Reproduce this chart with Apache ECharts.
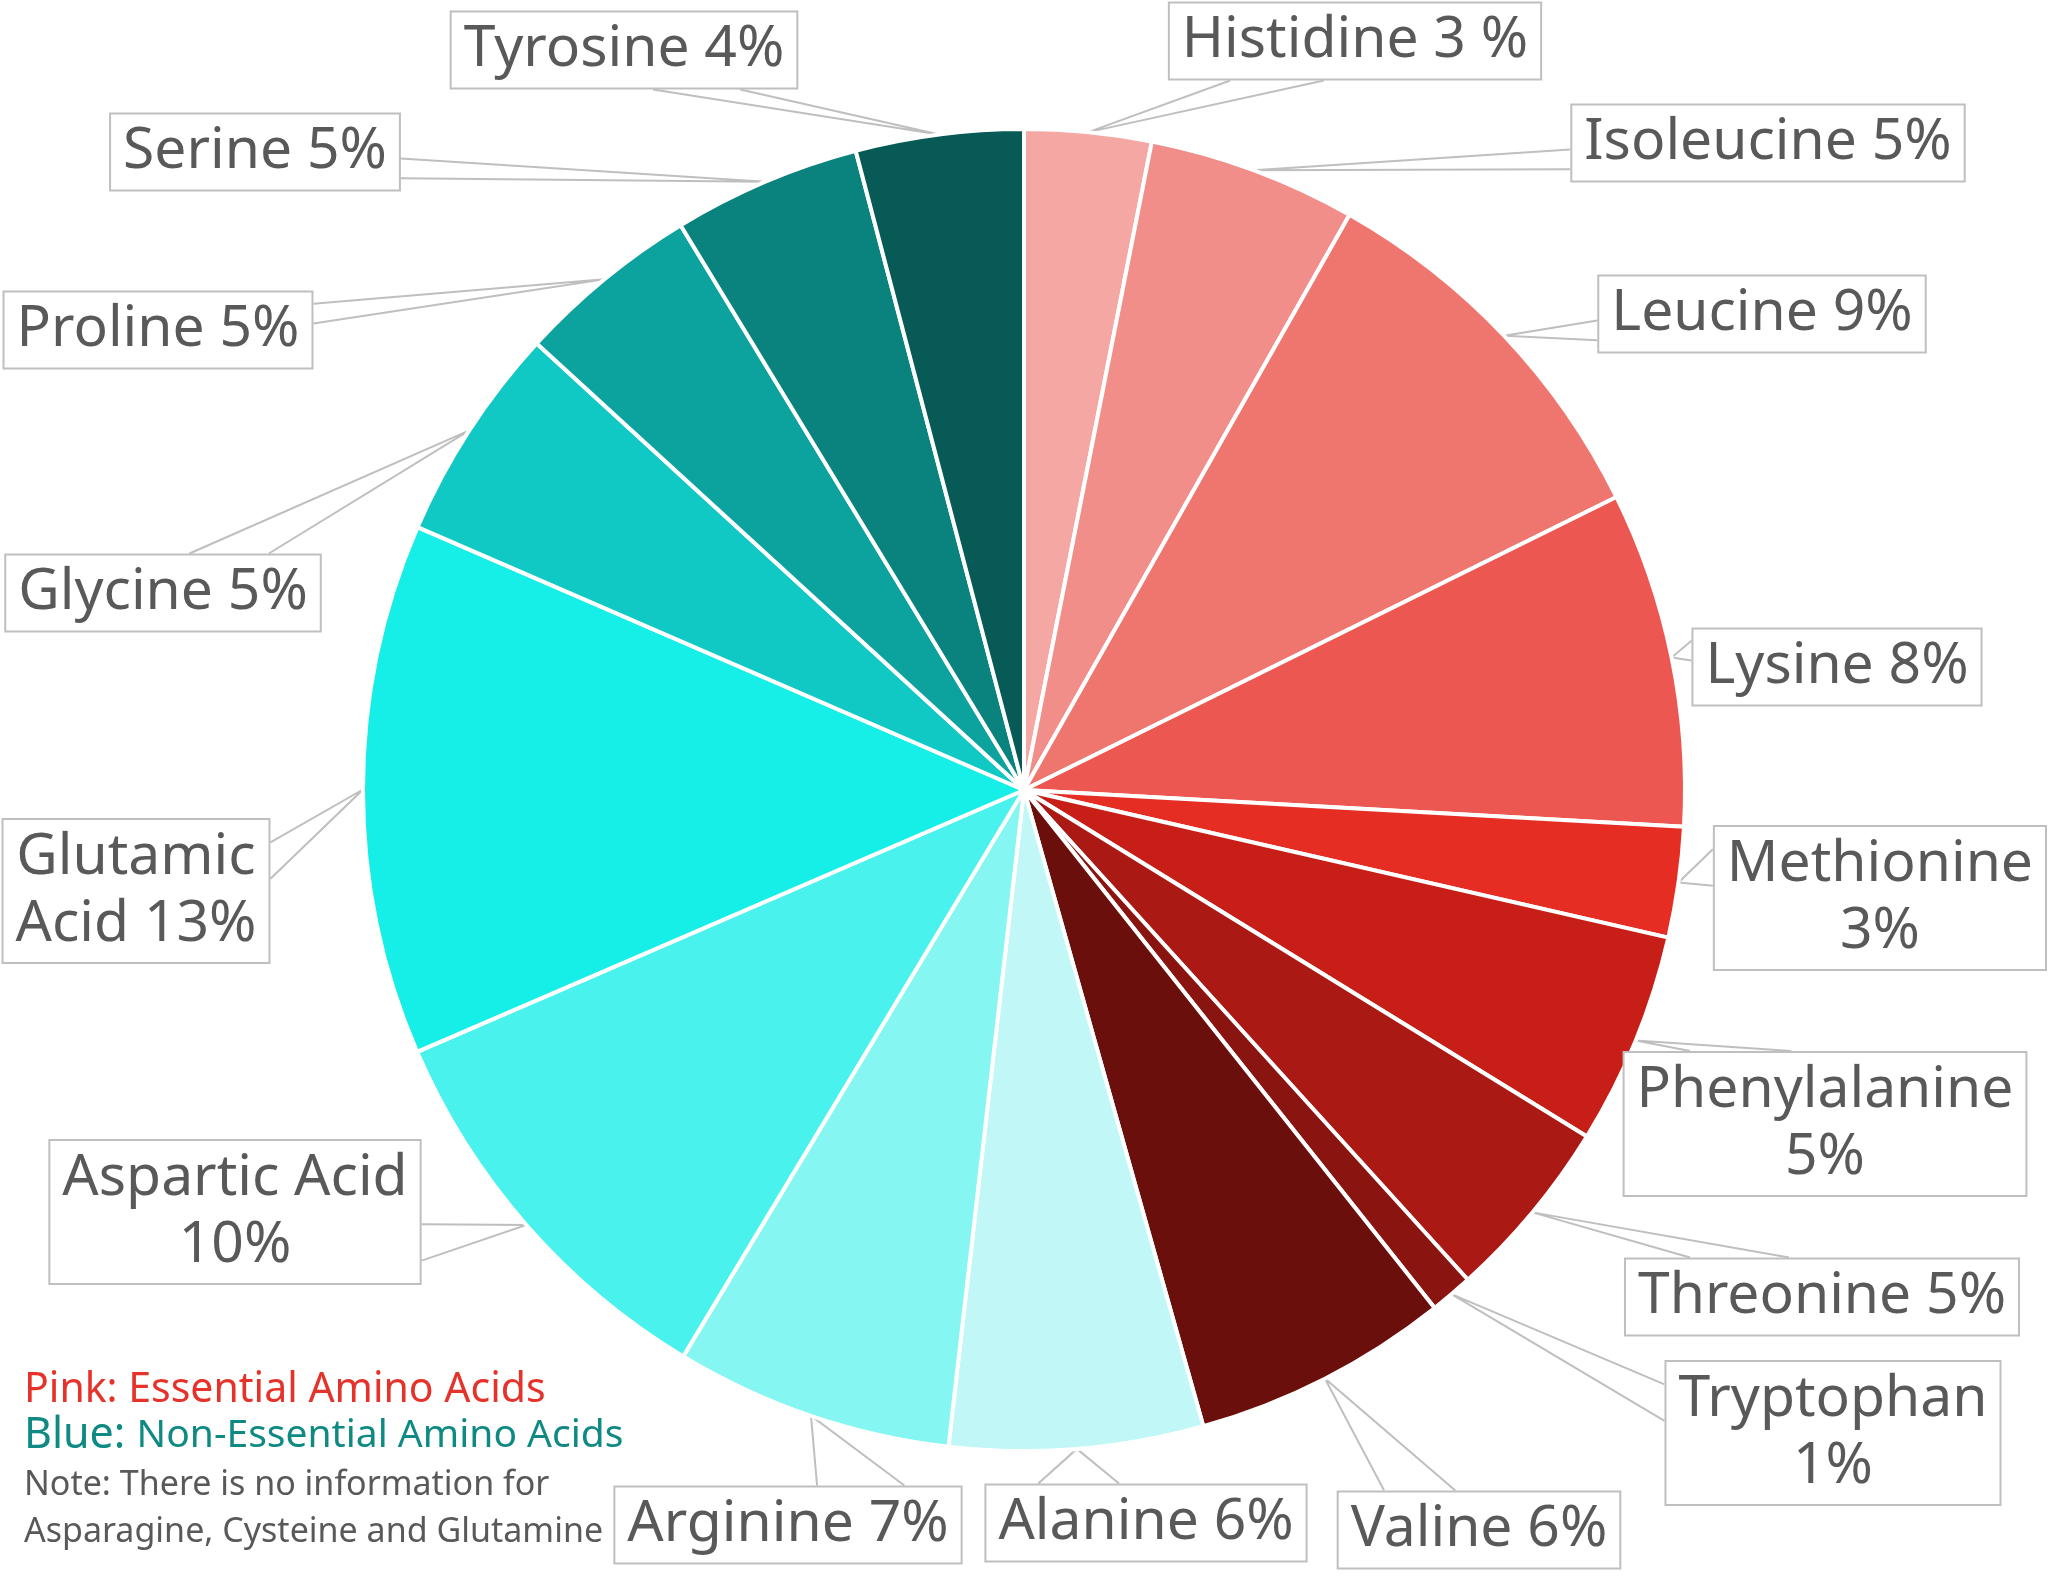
<!DOCTYPE html>
<html lang="en">
<head>
    <meta charset="UTF-8">
    <title>Amino Acids</title>
    <script src="https://cdn.jsdelivr.net/npm/echarts@6/dist/echarts.min.js"></script>
    <style>html,body{margin:0;padding:0;background:#fff;}</style>
</head>
<body>
<div id="pieChart" style="width:2048px;height:1579px;"></div>
<script>
    // slices, clockwise from 12 o'clock
    var names = ['Histidine', 'Isoleucine', 'Leucine', 'Lysine', 'Methionine', 'Phenylalanine',
        'Threonine', 'Tryptophan', 'Valine', 'Alanine', 'Arginine', 'Aspartic Acid',
        'Glutamic Acid', 'Glycine', 'Proline', 'Serine', 'Tyrosine'];
    var values = [3.1, 5.1, 9.5, 8.2, 2.7, 5.2, 4.5, 1.05, 6.3, 6.2, 6.8, 9.9, 13.0, 5.3, 4.5, 4.6, 4.1];
    var labelTexts = ['Histidine 3 %', 'Isoleucine 5%', 'Leucine 9%', 'Lysine 8%', 'Methionine\n3%',
        'Phenylalanine\n5%', 'Threonine 5%', 'Tryptophan\n1%', 'Valine 6%', 'Alanine 6%',
        'Arginine 7%', 'Aspartic Acid\n10%', 'Glutamic\nAcid 13%', 'Glycine 5%', 'Proline 5%',
        'Serine 5%', 'Tyrosine 4%'];
    var colors = ['#f4a7a3', '#f28e89', '#ee766f', '#ec5751', '#e52d24', '#c71e17',
        '#aa1913', '#8a1410', '#6b0f0c', '#c1f7f6', '#86f6f2', '#4af2ee',
        '#16eee8', '#10c9c5', '#0ca39f', '#0a827d', '#075a55'];

    // where the callout boxes sit (box centre, px)
    var boxCentres = [[1355, 41], [1768, 143], [1762, 314], [1837, 667], [1881, 898],
        [1825, 1124], [1822, 1297], [1833, 1433], [1479, 1530], [1146, 1523],
        [788, 1525], [235, 1212], [136, 891], [163, 593], [158, 330],
        [255, 152], [624, 50]];

    var W = 2048;

    // excel style wedge callout: two lines from the box edge to the tip
    function wedge(box, tip) {
        var hc = box.x + box.w / 2, vc = box.y + box.h / 2;
        var dxPos = tip[0] - hc, dyPos = tip[1] - vc;
        var dx = dxPos * box.h, dy = dyPos * box.w;
        var a, b;
        if (Math.abs(dy) > Math.abs(dx)) {
            var xg = dxPos > 0 ? [7, 10] : [2, 5];
            var ye = dyPos > 0 ? box.y + box.h : box.y;
            a = [box.x + box.w * xg[0] / 12, ye];
            b = [box.x + box.w * xg[1] / 12, ye];
        } else {
            var yg = dyPos > 0 ? [7, 10] : [2, 5];
            var xe = dxPos > 0 ? box.x + box.w : box.x;
            a = [xe, box.y + box.h * yg[0] / 12];
            b = [xe, box.y + box.h * yg[1] / 12];
        }
        return [a, tip, b];
    }

    var pieData = [];
    for (var i = 0; i < names.length; i++) {
        pieData.push({name: names[i], value: values[i], itemStyle: {color: colors[i]}});
    }

    var chart = echarts.init(document.getElementById('pieChart'));

    var option = {
        animation: false,
        backgroundColor: '#fff',
        series: [{
            type: 'pie',
            center: [1024, 790],
            radius: 661,
            startAngle: 90,
            clockwise: true,
            avoidLabelOverlap: false,
            silent: true,
            itemStyle: {borderColor: '#fff', borderWidth: 4},
            label: {
                show: true,
                position: 'outside',
                formatter: function (p) { return labelTexts[p.dataIndex]; },
                fontFamily: 'Noto Sans',
                fontSize: 57,
                lineHeight: 67,
                color: '#595959',
                backgroundColor: '#fff',
                borderColor: '#bfbfbf',
                borderWidth: 2,
                padding: [4, 12],
                align: 'center'
            },
            labelLine: {
                show: true,
                length: 20,
                length2: 20,
                lineStyle: {color: '#bfbfbf', width: 2}
            },
            labelLayout: function (params) {
                var i = params.dataIndex;
                var w = params.labelRect.width, h = params.labelRect.height;
                var cx = Math.min(Math.max(boxCentres[i][0], w / 2 + 1), W - 1 - w / 2);
                var cy = boxCentres[i][1];
                var box = {x: cx - w / 2, y: cy - h / 2, w: w, h: h};
                var tip = params.labelLinePoints ? params.labelLinePoints[0] : [cx, cy];
                return {
                    x: cx,
                    y: cy,
                    align: 'center',
                    verticalAlign: 'middle',
                    labelLinePoints: wedge(box, tip)
                };
            },
            data: pieData
        }],
        graphic: [
            {
                type: 'text', left: 24, top: 1370,
                style: {
                    text: 'Pink: Essential Amino Acids',
                    font: '41px "Noto Sans"', fill: '#e5322a'
                }
            },
            {
                type: 'text', left: 24, top: 1414,
                style: {
                    text: '{a|Blue: }{b|Non-Essential Amino Acids}',
                    rich: {
                        a: {fontSize: 43, fontFamily: 'Noto Sans', fill: '#0e8a83'},
                        b: {fontSize: 39, fontFamily: 'Noto Sans', fill: '#0e8a83'}
                    }
                }
            },
            {
                type: 'text', left: 24, top: 1468,
                style: {
                    text: 'Note: There is no information for',
                    font: '34px "Noto Sans"', fill: '#595959'
                }
            },
            {
                type: 'text', left: 24, top: 1515,
                style: {
                    text: 'Asparagine, Cysteine and Glutamine',
                    font: '34px "Noto Sans"', fill: '#595959'
                }
            }
        ]
    };
    chart.setOption(option);
</script>
</body>
</html>
